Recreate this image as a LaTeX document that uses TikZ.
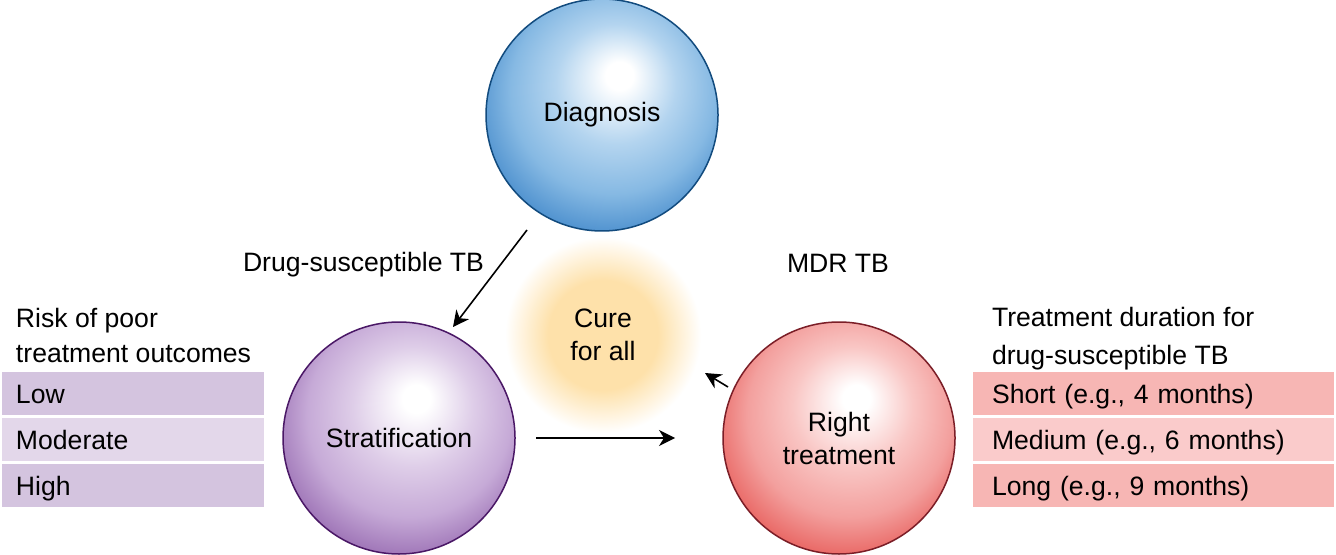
\documentclass[tikz,border=0pt]{standalone}
\usepackage{fontspec}
\setmainfont{Liberation Sans}
\usetikzlibrary{arrows.meta}
\definecolor{blueL}{HTML}{B3D4EF}
\definecolor{blueM}{HTML}{86B9E3}
\definecolor{blueE}{HTML}{4A8ECD}
\definecolor{blueB}{HTML}{124B7E}
\definecolor{purL}{HTML}{DECDE8}
\definecolor{purM}{HTML}{C6AAD7}
\definecolor{purE}{HTML}{9B70B4}
\definecolor{purB}{HTML}{4A1866}
\definecolor{redL}{HTML}{F9C6C4}
\definecolor{redM}{HTML}{F3A09E}
\definecolor{redE}{HTML}{E8625F}
\definecolor{redB}{HTML}{7B1E27}
\definecolor{glowC}{HTML}{FEE1AA}
\definecolor{purA}{HTML}{D4C4DF}
\definecolor{purBx}{HTML}{E3D7EA}
\definecolor{redA}{HTML}{F7B6B4}
\definecolor{redBx}{HTML}{FACBCB}
\pgfdeclareradialshading{blueball}{\pgfpoint{4bp}{9bp}}{color(0bp)=(white); color(3bp)=(white); color(13bp)=(blueL); color(22bp)=(blueM); color(30bp)=(blueE); color(50bp)=(blueE)}
\pgfdeclareradialshading{purball}{\pgfpoint{4bp}{9bp}}{color(0bp)=(white); color(3bp)=(white); color(13bp)=(purL); color(22bp)=(purM); color(30bp)=(purE); color(50bp)=(purE)}
\pgfdeclareradialshading{redball}{\pgfpoint{4bp}{9bp}}{color(0bp)=(white); color(3bp)=(white); color(13bp)=(redL); color(22bp)=(redM); color(30bp)=(redE); color(50bp)=(redE)}
\pgfdeclareradialshading{glowshade}{\pgfpoint{0bp}{0bp}}{color(0bp)=(glowC); color(14bp)=(glowC); color(25bp)=(white); color(50bp)=(white)}
\begin{document}
\begin{tikzpicture}[x=0.5pt,y=-0.5pt,
  every node/.style={font=\fontsize{13.3pt}{16.5pt}\selectfont, outer sep=0pt},
  ball/.style={circle, minimum size=116pt, line width=0.75pt, align=center, inner sep=0pt},
  glow/.style={circle, minimum size=98pt, shading=glowshade, align=center, inner sep=0pt},
  arr/.style={line width=0.8pt, -{Stealth[length=8pt,width=8pt,inset=2.5pt]}},
  lbl/.style={inner sep=0pt},
  lbox/.style={rectangle, minimum width=131pt, minimum height=21.5pt, inner xsep=7pt, inner ysep=0pt, text width=117pt, align=left, text height=9.5pt, text depth=0pt},
  rbox/.style={rectangle, minimum width=180.5pt, minimum height=21.5pt, inner xsep=9.5pt, inner ysep=0pt, text width=161.5pt, align=left, text height=9.5pt, text depth=0pt}
]
\useasboundingbox (0,0) rectangle (1336,555);
\fill[white] (0,0) rectangle (1336,555);
% glow
\node[glow] (cure) at (603,335) {Cure\\for all};
% circles
\node[ball, shading=blueball, draw=blueB] (diag) at (602,115) {Diagnosis};
\node[ball, shading=purball, draw=purB] (strat) at (399,438) {Stratification};
\node[ball, shading=redball, draw=redB] (rt) at (839,438) {Right\\treatment};
% arrows
\coordinate (a1s) at (527,230);
\coordinate (a1e) at (453,327);
\draw[arr] (a1s) -- (a1e);
\draw[arr, shorten <=10.5pt, shorten >=24pt] (strat) -- (rt);
\coordinate (a3s) at (728,387);
\coordinate (a3e) at (705,373);
\draw[arr] (a3s) -- (a3e);
% labels
\node[lbl, anchor=base west] (dslbl) at (243,272) {Drug-susceptible TB};
\node[lbl, anchor=base] (mdrlbl) at (838,273) {MDR TB};
% left table
\node[lbl, anchor=base west] (riska) at (16,328) {Risk of poor};
\node[lbl, anchor=base west] (riskb) at (16,362) {treatment outcomes};
\node[lbox, fill=purA] (low) at (133,393.5) {Low};
\node[lbox, fill=purBx] (mod) at (133,439.5) {Moderate};
\node[lbox, fill=purA] (high) at (133,485.5) {High};
% right table
\node[lbl, anchor=base west] (tda) at (992,327) {Treatment duration for};
\node[lbl, anchor=base west] (tdb) at (992,364) {drug-susceptible TB};
\node[rbox, fill=redA] (short) at (1153.5,393.5) {Short (e.g., 4 months)};
\node[rbox, fill=redBx] (medium) at (1153.5,439.5) {Medium (e.g., 6 months)};
\node[rbox, fill=redA] (long) at (1153.5,485.5) {Long (e.g., 9 months)};
\end{tikzpicture}
\end{document}
